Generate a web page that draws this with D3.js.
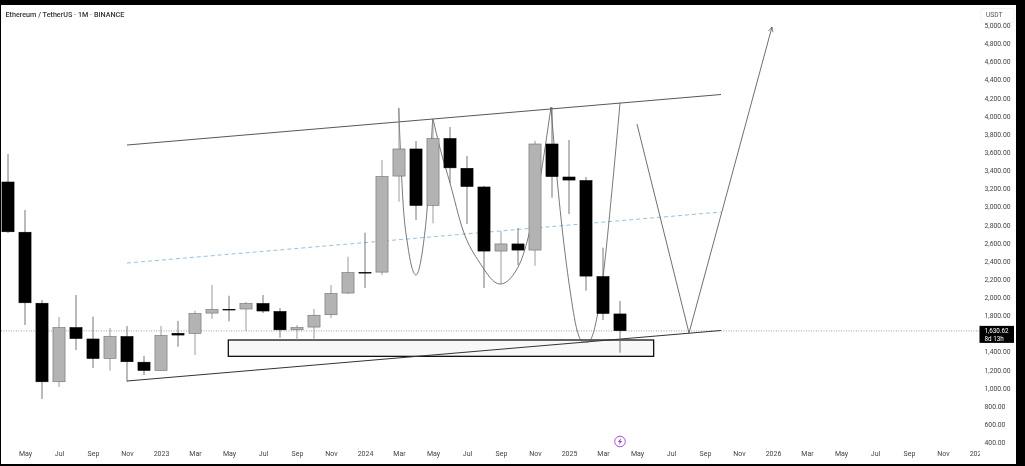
<!DOCTYPE html>
<html><head><meta charset="utf-8">
<script src="https://cdn.jsdelivr.net/npm/d3@7"></script>
<style>
html,body{margin:0;padding:0;background:#000;overflow:hidden}
svg{display:block;font-family:Roboto,"Liberation Sans",sans-serif}
</style></head><body><div id="c"></div>
<script>
// monthly candles, first one is Apr 2022 (month index 0)
const opens =[3275,2721,1938,1067,1670,1544,1324,1571,1288,1192,1607,1600,1824,1869,1869,1935,1847,1640,1670,1806,2045,2276,2276,3335,3639,3011,3754,3426,3220,2508,2592,2519,3694,3330,3291,2232,1820];
const highs =[3581,2963,1971,1784,2026,1787,1662,1684,1354,1684,1740,1853,2136,2018,1949,2026,1883,1695,1872,2136,2448,2713,3515,4085,3724,3967,3878,3559,3230,2732,2765,3727,4099,3735,3327,2548,1960];
const lows  =[2710,1695,880,1012,1420,1221,1192,1070,1144,1192,1456,1365,1762,1736,1629,1828,1555,1530,1530,1773,2037,2103,2247,3055,2853,2817,3261,2809,2103,2147,2357,2349,3099,2919,2074,1751,1390];
const closes=[2721,1938,1067,1670,1544,1324,1571,1288,1192,1582,1582,1824,1869,1862,1935,1847,1640,1670,1806,2045,2276,2270,3335,3639,3011,3754,3426,3220,2508,2592,2519,3694,3330,3291,2232,1820,1630.62];
const isUp  =[0,0,0,1,0,0,1,0,0,1,0,1,1,0,1,0,0,1,1,1,1,0,1,1,0,1,0,0,0,1,0,1,0,0,0,0,0];
const lastPrice=1630.62;

const priceTicks=[400,600,800,1000,1200,1400,1800,2000,2200,2400,2600,2800,3000,3200,3400,3600,3800,4000,4200,4400,4600,4800,5000];
const monthTicks=[1,3,5,7,9,11,13,15,17,19,21,23,25,27,29,31,33,35,37,39,41,43,45,47,49,51,53,55,57];
const monthLabels=["May","Jul","Sep","Nov","2023","Mar","May","Jul","Sep","Nov","2024","Mar","May","Jul","Sep","Nov","2025","Mar","May","Jul","Sep","Nov","2026","Mar","May","Jul","Sep","Nov","2027"];

// hand drawn overlays: [month index, price]
const channelTop=[[7,3680],[41.94,4237]];
const channelBottom=[[7,1078],[41.94,1635]];
const channelMid=[[7,2379],[41.94,2941]];
const zone=[[12.96,1530],[37.98,1350]];
const cup1=[[22.98,4088],[23.24,3040],[23.53,2555],[24,2247],[24.41,2555],[24.65,2963],[24.98,3967]];
const cup2=[[25,3967],[25.41,3647],[26,3261],[26.76,2743],[27.76,2379],[28.94,2147],[30.12,2379],[30.59,2655],[31.29,3295],[31.94,4099]];
const cup3=[[31.94,4099],[32.29,3327],[33.06,2081],[33.47,1640],[33.82,1508],[34.12,1508],[34.65,1784],[35,2225],[35.53,3184],[36,4143]];
const projection=[[37,3911],[40.06,1607],[44.94,4981]];

const W=1025,H=466;
const x=d3.scaleLinear().domain([0,1]).range([8,25]);
const y=d3.scaleLinear().domain([400,5000]).range([442.5,25.3]);
const svg=d3.select("#c").append("svg").attr("width",W).attr("height",H).style("filter","blur(0.35px)");
svg.append("rect").attr("width",W).attr("height",H).attr("fill","#000");
svg.append("rect").attr("x",1).attr("y",5).attr("width",1015).attr("height",459).attr("fill","#fff");

const line=d3.line().x(d=>x(d[0])).y(d=>y(d[1]));
// price line
svg.append("line").attr("x1",1).attr("x2",980).attr("y1",y(lastPrice)).attr("y2",y(lastPrice))
  .attr("stroke","#777").attr("stroke-width",.7).attr("stroke-dasharray","1 1.5");

// overlays (behind candles)
const ov=svg.append("g").attr("fill","none");
ov.append("rect").attr("x",x(zone[0][0])).attr("y",y(zone[0][1]))
  .attr("width",x(zone[1][0])-x(zone[0][0])).attr("height",y(zone[1][1])-y(zone[0][1]))
  .attr("fill","#f8f8f8").attr("stroke","#111").attr("stroke-width",1.3);
ov.append("path").attr("d",line(channelMid)).attr("stroke","#8db9d8").attr("stroke-width",.9).attr("stroke-dasharray","4 3");
ov.append("path").attr("d",line(channelTop)).attr("stroke","#444").attr("stroke-width",.9);
ov.append("path").attr("d",line(channelBottom)).attr("stroke","#333").attr("stroke-width",1);
const curve=d3.line().x(d=>x(d[0])).y(d=>y(d[1])).curve(d3.curveMonotoneX);
[cup1,cup2,cup3].forEach(c=>ov.append("path").attr("d",curve(c)).attr("stroke","#555").attr("stroke-width",.8));
svg.append("defs").append("marker").attr("id","ah").attr("viewBox","0 0 10 10").attr("refX",9).attr("refY",5)
  .attr("markerWidth",6).attr("markerHeight",6).attr("markerUnits","userSpaceOnUse").attr("orient","auto")
  .append("path").attr("d","M1 1L9 5L1 9").attr("fill","none").attr("stroke","#555").attr("stroke-width",1.1);
ov.append("path").attr("d",line(projection)).attr("stroke","#555").attr("stroke-width",.85).attr("marker-end","url(#ah)");

// candles
const idx=d3.range(opens.length), bw=12.6;
const g=svg.append("g");
g.selectAll("line").data(idx).join("line")
  .attr("x1",i=>x(i)).attr("x2",i=>x(i)).attr("y1",i=>y(highs[i])).attr("y2",i=>y(lows[i]))
  .attr("stroke",i=>isUp[i]?"#909090":"#666").attr("stroke-width",.9);
g.selectAll("rect").data(idx).join("rect")
  .attr("x",i=>x(i)-bw/2+.25).attr("width",bw-.5)
  .attr("y",i=>Math.min(y(opens[i]),y(closes[i]))+.25)
  .attr("height",i=>Math.max(.5,Math.abs(y(opens[i])-y(closes[i]))-.5))
  .attr("fill",i=>isUp[i]?"#b3b3b3":"#000")
  .attr("stroke",i=>isUp[i]?"#6e6e6e":"#000").attr("stroke-width",.6);

// time axis
const xAxis=d3.axisBottom(x).tickValues(monthTicks).tickFormat((d,i)=>monthLabels[i]).tickSize(0).tickPadding(0);
const xg=svg.append("g").attr("transform","translate(0,451)").call(xAxis);
xg.select(".domain").remove();
xg.selectAll("text").attr("font-size",7).attr("fill","#444").attr("font-family","Roboto,sans-serif");
// price scale panel
svg.append("rect").attr("x",980).attr("y",5).attr("width",36).attr("height",459).attr("fill","#fff");
const yAxis=d3.axisRight(y).tickValues(priceTicks).tickFormat(d3.format(",.2f")).tickSize(0).tickPadding(0);
const yg=svg.append("g").attr("transform","translate(984.5,0)").call(yAxis);
yg.select(".domain").remove();
yg.selectAll("text").attr("font-size",6.8).attr("fill","#444").attr("font-family","Roboto,sans-serif");
// currency box
svg.append("rect").attr("x",981).attr("y",8.5).attr("width",33).attr("height",14).attr("rx",2).attr("fill","#fff").attr("stroke","#eee").attr("stroke-width",.7);
svg.append("text").attr("x",986).attr("y",17).attr("font-size",6.6).attr("fill","#555").text("USDT");
// last price tag
svg.append("rect").attr("x",979.5).attr("y",y(lastPrice)-5).attr("width",34.5).attr("height",17).attr("fill","#000");
svg.append("text").attr("x",984.5).attr("y",y(lastPrice)+1.8).attr("font-size",6.3).attr("fill","#fff").text(d3.format(",.2f")(lastPrice));
svg.append("text").attr("x",984.5).attr("y",y(lastPrice)+10.2).attr("font-size",6.3).attr("fill","#fff").text("8d 13h");
// title
svg.append("text").attr("x",5.5).attr("y",16.5).attr("font-size",7.2).attr("font-weight",500).attr("fill","#333").text("Ethereum / TetherUS · 1M · BINANCE");
// lightning badge
const b=svg.append("g").attr("transform",`translate(${x(36)},441.5)`);
b.append("circle").attr("r",5.3).attr("fill","#fff").attr("stroke","#9c3fd0").attr("stroke-width",.9);
b.append("path").attr("d","M1.2 -3.4L-2.2 .6L-.2 .6L-1.2 3.4L2.2 -.6L.2 -.6Z").attr("fill","#9c3fd0");
</script></body></html>
